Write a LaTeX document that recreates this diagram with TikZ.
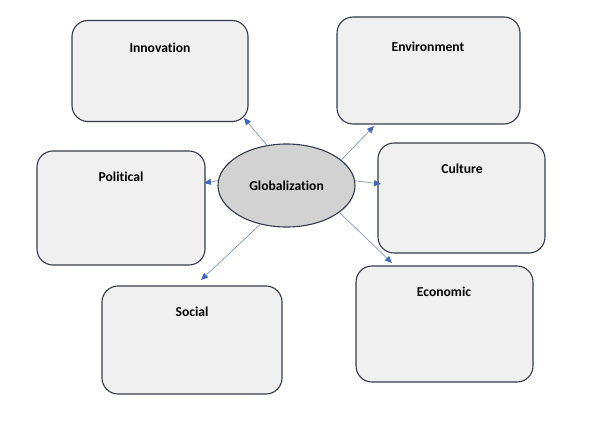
\documentclass[tikz,border=0pt]{standalone}
\usepackage{fontspec}
\setmainfont[Ligatures=NoCommon]{Carlito}
\usetikzlibrary{shapes.geometric,arrows.meta}
\definecolor{boxfill}{HTML}{F0F0F0}
\definecolor{boxline}{HTML}{353B4A}
\definecolor{ellfill}{HTML}{D2D2D2}
\definecolor{arrline}{HTML}{8A9BBE}
\definecolor{arrhead}{HTML}{3F68B5}
\tikzset{
  box/.style={draw=boxline, line width=1.1pt, fill=boxfill, rounded corners=16pt, inner sep=0pt},
  lbl/.style={font=\fontsize{13.6}{16}\selectfont\bfseries, inner sep=0pt, text=black},
  hub/.style={ellipse, draw=boxline, line width=1.1pt, fill=ellfill, inner sep=0pt, minimum width=137pt, minimum height=83pt},
  conn/.style={draw=arrline, line width=0.7pt, -{Triangle[length=7pt,width=6pt,fill=arrhead,color=arrhead]}}
}
\begin{document}
\begin{tikzpicture}[x=1pt,y=-1pt]
\useasboundingbox (0,0) rectangle (600,433);
\node[box, minimum width=176pt, minimum height=101pt] (innov) at (160,71) {};
\node[box, minimum width=183pt, minimum height=107pt] (env) at (428.5,70.5) {};
\node[box, minimum width=168pt, minimum height=114pt] (pol) at (121,208) {};
\node[box, minimum width=167pt, minimum height=110pt] (cult) at (461.5,198) {};
\node[box, minimum width=180pt, minimum height=108pt] (soc) at (192,340) {};
\node[box, minimum width=177pt, minimum height=116pt] (econ) at (444.5,324) {};
\node[lbl] (innovt) at (160,48) {Innovation};
\node[lbl] (envt) at (428,47) {Environment};
\node[lbl] (polt) at (121,177) {Political};
\node[lbl] (cultt) at (462,169) {Culture};
\node[lbl] (soct) at (192,312) {Social};
\node[lbl] (econt) at (444,292) {Economic};
\node[hub] (g) at (286.5,185.5) {};
\node[lbl] (gt) at (286.5,186) {Globalization};
\coordinate (e1) at (244,118);
\coordinate (e2) at (374,126);
\coordinate (e3) at (381,184);
\coordinate (e4) at (204,183);
\coordinate (e5) at (201,280);
\coordinate (e6) at (392,263);
\draw[conn] (g.116) -- (e1);
\draw[conn] (g.25) -- (e2);
\draw[conn] (g.4) -- (e3);
\draw[conn] (g.176) -- (e4);
\draw[conn] (g.236) -- (e5);
\draw[conn] (g.333) -- (e6);
\end{tikzpicture}
\end{document}
